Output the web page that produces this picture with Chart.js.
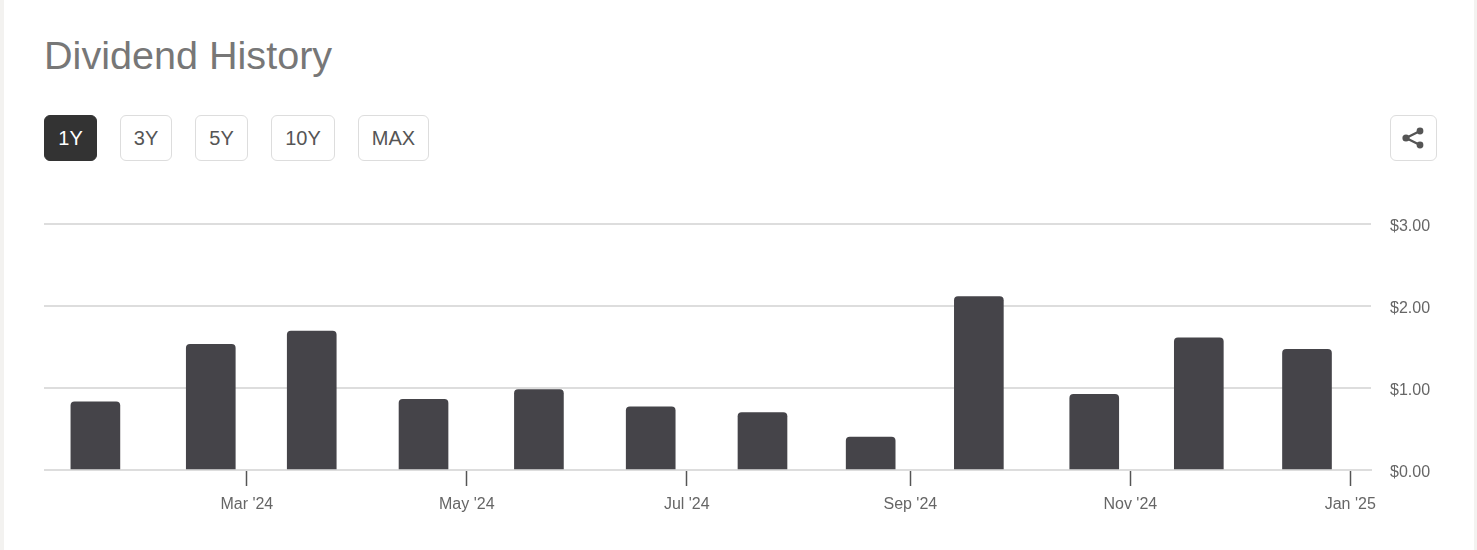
<!DOCTYPE html>
<html>
<head>
<meta charset="utf-8">
<title>Dividend History</title>
<script src="https://cdn.jsdelivr.net/npm/chart.js@4"></script>
<style>
    html, body { margin: 0; padding: 0; height: 100%; background: #f3f2f0; overflow: hidden; }
    #card { position: absolute; left: 4px; right: 3px; top: 0; bottom: 0; background: #fff; font-family: "Liberation Sans", Arial, sans-serif; }
    #title { position: absolute; left: 40px; top: 31px; margin: 0; font-size: 39.6px; font-weight: normal; line-height: 48px; color: #777; white-space: nowrap; }
    .range-btn { position: absolute; top: 115px; height: 46px; box-sizing: border-box; border: 1px solid #ddd; border-radius: 6px; background: #fff; color: #555; font-size: 20px; line-height: 44px; text-align: center; }
    .range-btn.active { background: #333; border-color: #333; color: #fff; }
    #share { position: absolute; left: 1386px; top: 115px; width: 47px; height: 46px; box-sizing: border-box; border: 1px solid #ddd; border-radius: 6px; }
    #share svg { position: absolute; left: 10px; top: 10px; }
    #chart-wrap { position: absolute; left: 40px; top: 195px; }
</style>
</head>
<body>
<div id="card">
    <h2 id="title">Dividend History</h2>
    <div class="range-btn active" style="left:40px;width:53px">1Y</div>
    <div class="range-btn" style="left:116px;width:52px">3Y</div>
    <div class="range-btn" style="left:191px;width:53px">5Y</div>
    <div class="range-btn" style="left:267px;width:64px">10Y</div>
    <div class="range-btn" style="left:354px;width:71px">MAX</div>
    <div id="share">
        <svg width="25" height="24" viewBox="0 0 25 24">
            <path d="M5 12 L19 5 M5 12 L19 19" stroke="#555" stroke-width="2.4" fill="none"/>
            <circle cx="5" cy="12" r="3.6" fill="#555"/>
            <circle cx="19" cy="5" r="3.4" fill="#555"/>
            <circle cx="19" cy="19" r="3.4" fill="#555"/>
        </svg>
    </div>
    <div id="chart-wrap"><canvas id="bar-chart" width="1393" height="335"></canvas></div>
</div>
<script>
const payDates = ['2024-01-19', '2024-02-20', '2024-03-19', '2024-04-19', '2024-05-21', '2024-06-21',
    '2024-07-22', '2024-08-21', '2024-09-20', '2024-10-22', '2024-11-20', '2024-12-20'];
const dividends = [0.83, 1.53, 1.69, 0.86, 0.98, 0.77, 0.70, 0.40, 2.11, 0.92, 1.61, 1.47];
const tickDates = ['2024-03-01', '2024-05-01', '2024-07-01', '2024-09-01', '2024-11-01', '2025-01-01'];
const tickLabels = ["Mar '24", "May '24", "Jul '24", "Sep '24", "Nov '24", "Jan '25"];
const rangeStart = '2024-01-04T18:00:00Z';
const rangeEnd = '2025-01-06T18:00:00Z';

const tickValues = tickDates.map(d => Date.parse(d));

buildChart();

function buildChart() {
    const config = {
        type: 'bar',
        data: {
            datasets: [{
                data: payDates.map((d, i) => ({x: Date.parse(d), y: dividends[i]})),
                backgroundColor: '#454449',
                barThickness: 49,
                borderSkipped: 'bottom',
                borderRadius: {topLeft: 4, topRight: 4, bottomLeft: 0, bottomRight: 0},
            }]
        },
        options: {
            responsive: false,
            animation: false,
            layout: {
                autoPadding: false,
                padding: {top: 10},
            },
            plugins: {
                legend: {display: false},
            },
            scales: {
                x: {
                    type: 'linear',
                    offset: false,
                    min: Date.parse(rangeStart),
                    max: Date.parse(rangeEnd),
                    afterBuildTicks: scale => {
                        scale.ticks = tickValues.map(value => ({value}));
                    },
                    afterFit: scale => {
                        scale.height = 60;
                    },
                    border: {color: '#ddd', width: 2},
                    grid: {
                        offset: false,
                        drawOnChartArea: false,
                        tickLength: 16,
                        tickColor: '#555',
                        tickWidth: 1.5,
                    },
                    ticks: {
                        autoSkip: false,
                        maxRotation: 0,
                        padding: 9,
                        color: '#666',
                        font: {family: '"Liberation Sans"', size: 16},
                        callback: value => tickLabels[tickValues.indexOf(value)],
                    },
                },
                y: {
                    position: 'right',
                    min: 0,
                    max: 3,
                    afterFit: scale => {
                        scale.width = 66;
                    },
                    border: {display: false},
                    grid: {
                        color: '#ddd',
                        lineWidth: 2,
                        drawTicks: false,
                    },
                    ticks: {
                        stepSize: 1,
                        padding: 19,
                        labelOffset: 3,
                        color: '#666',
                        font: {family: '"Liberation Sans"', size: 16},
                        callback: value => '$' + value.toFixed(2),
                    },
                },
            },
        },
    };
    new Chart(document.getElementById('bar-chart'), config);
}
</script>
</body>
</html>
